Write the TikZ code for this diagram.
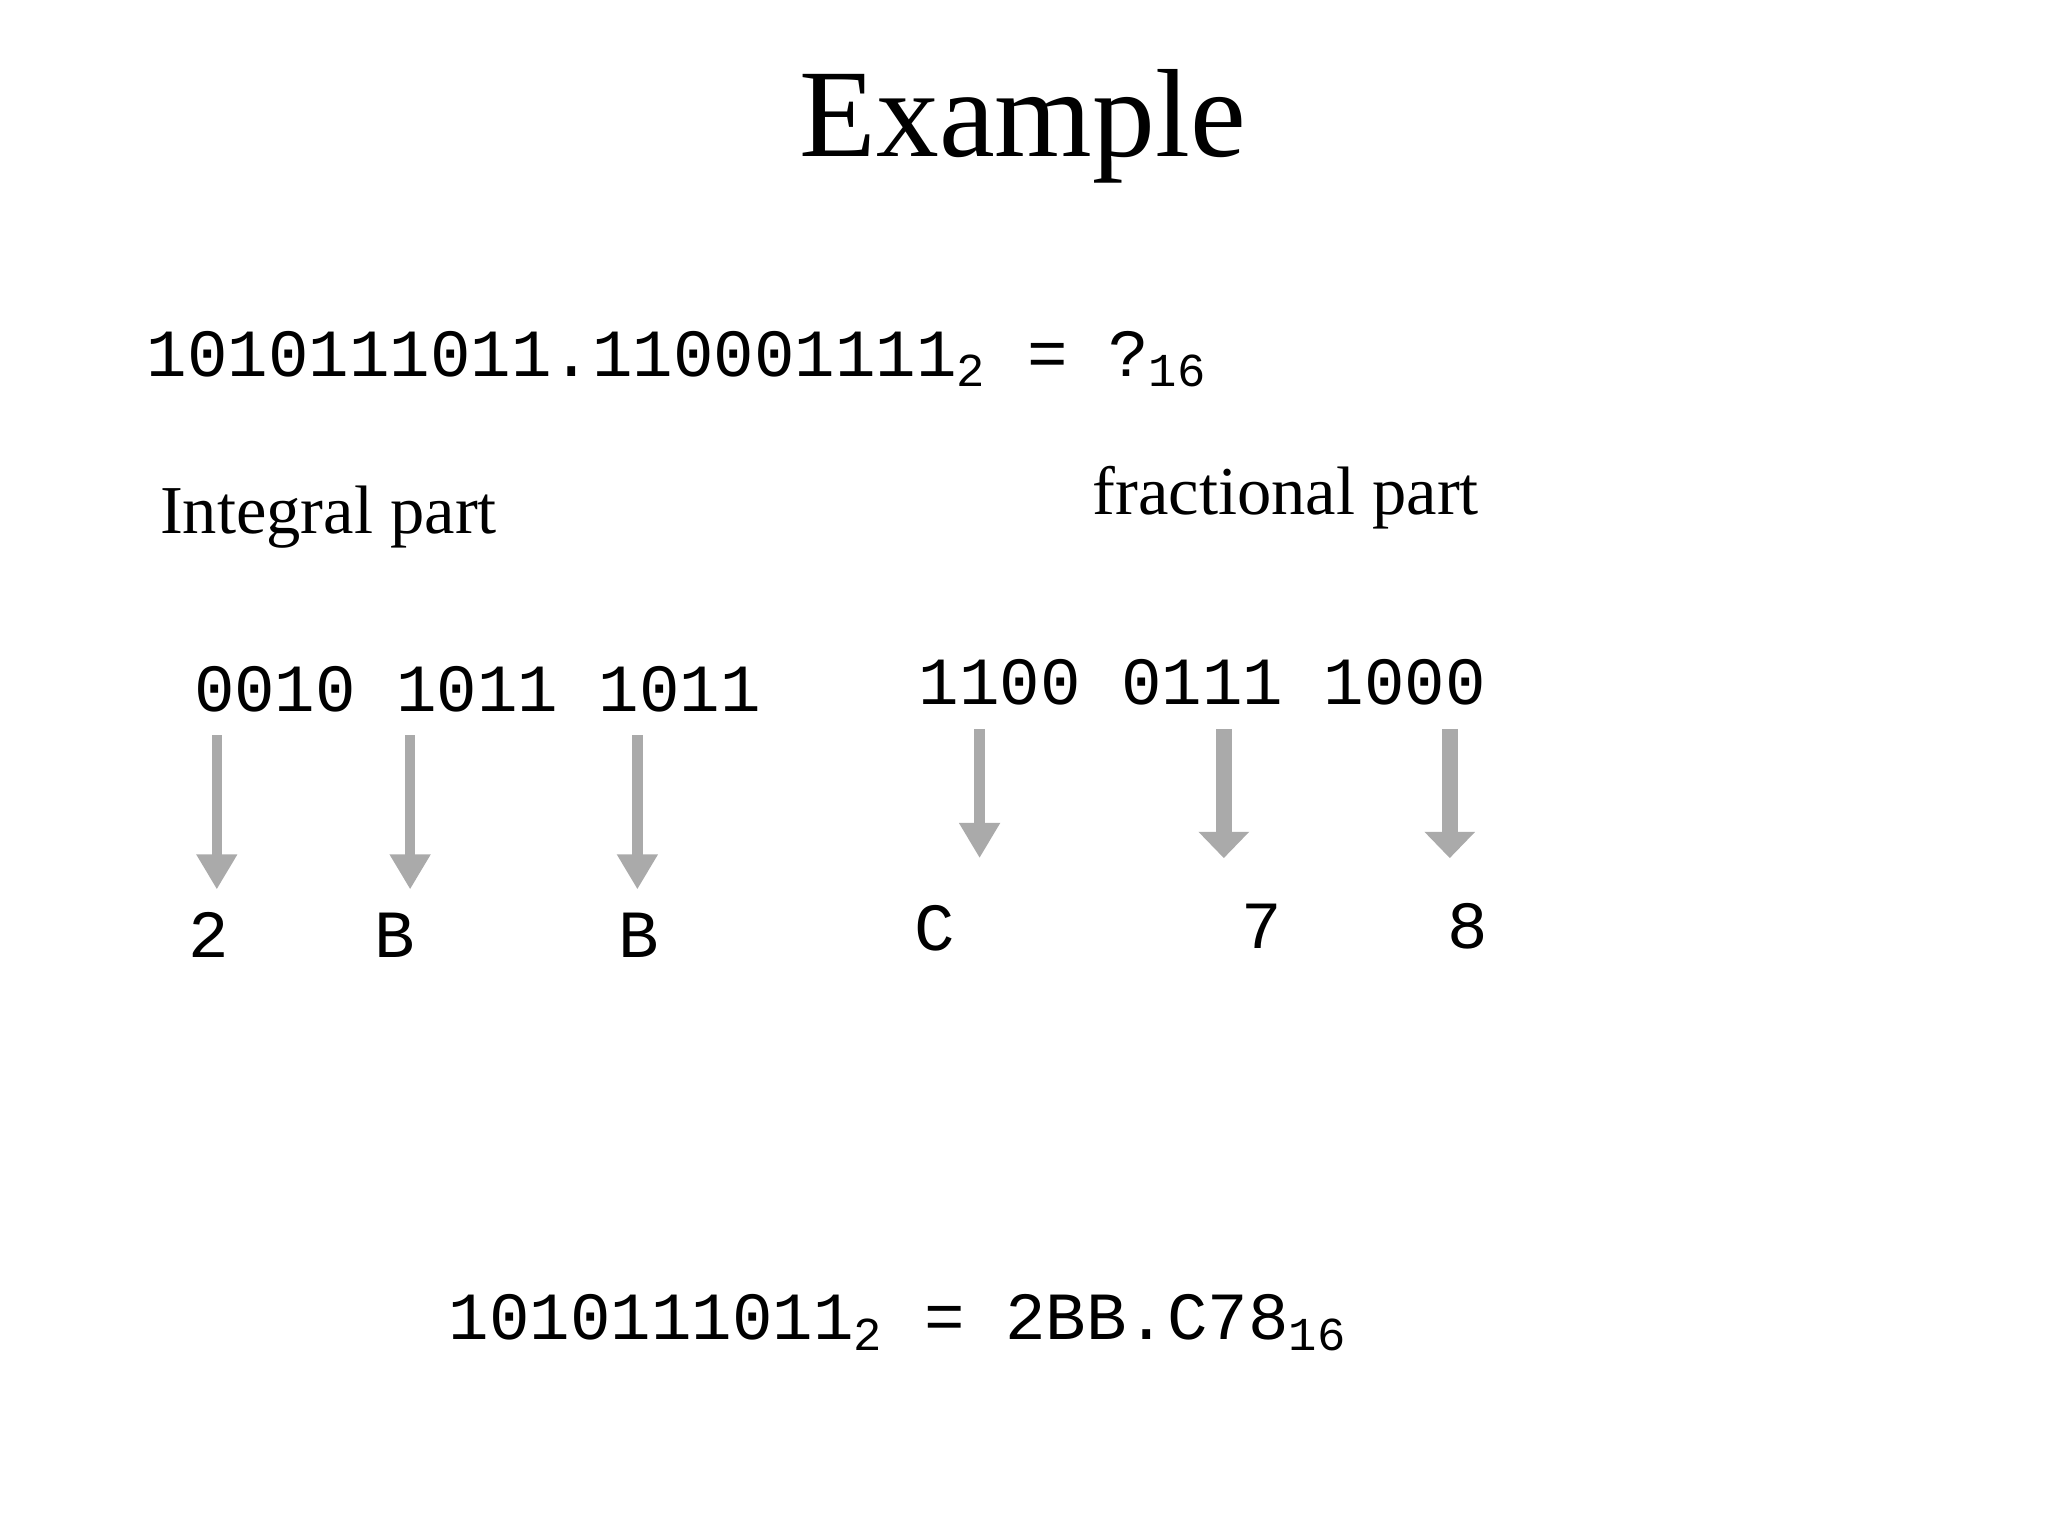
\documentclass[tikz,border=0pt]{standalone}
\usepackage{fontspec}
\setmainfont{Liberation Serif}
\setmonofont{Liberation Mono}
\usetikzlibrary{arrows.meta}
\definecolor{arrgray}{HTML}{AAAAAA}
\tikzset{
  mono/.style={font=\ttfamily\fontsize{19.2}{23}\selectfont, inner sep=0pt},
  lbl/.style={font=\fontsize{19.5}{23}\selectfont, inner sep=0pt},
  arrA/.style={draw=arrgray, line width=3pt, -{Triangle[width=11pt,length=10pt]}},
  arrB/.style={draw=arrgray, line width=4.4pt, -{Triangle[width=14pt,length=7.5pt]}},
}
\begin{document}
\begin{tikzpicture}[x=0.01306cm,y=-0.01306cm]
\useasboundingbox (0,0) rectangle (1568,1176);
\node[inner sep=0pt, font=\fontsize{35.7}{42}\selectfont] (title) at (783,97) {Example};
\node[mono, anchor=west] (q) at (112,275) {1010111011.110001111\textsubscript{2} = ?\textsubscript{16}};
\node[lbl, anchor=west] (ip) at (122,396) {Integral part};
\node[lbl, anchor=west] (fp) at (836,381) {fractional part};
\node[mono, anchor=west] (ib) at (148,528) {0010 1011 1011};
\node[mono, anchor=west] (fb) at (703,522) {1100 0111 1000};
\coordinate (s1) at (166,563); \coordinate (e1) at (166,681);
\coordinate (s2) at (314,563); \coordinate (e2) at (314,681);
\coordinate (s3) at (488,563); \coordinate (e3) at (488,681);
\coordinate (s4) at (750,558); \coordinate (e4) at (750,657);
\coordinate (s5) at (937,558); \coordinate (e5) at (937,657);
\coordinate (s6) at (1110,558); \coordinate (e6) at (1110,657);
\draw[arrA] (s1) -- (e1);
\draw[arrA] (s2) -- (e2);
\draw[arrA] (s3) -- (e3);
\draw[arrA] (s4) -- (e4);
\draw[arrB] (s5) -- (e5);
\draw[arrB] (s6) -- (e6);
\node[mono] (h1) at (160,716) {2};
\node[mono] (h2) at (302,716) {B};
\node[mono] (h3) at (489,716) {B};
\node[mono] (h4) at (716,711) {C};
\node[mono] (h5) at (966,709) {7};
\node[mono] (h6) at (1124,709) {8};
\node[mono, anchor=west] (res) at (343,1013) {1010111011\textsubscript{2} = 2BB.C78\textsubscript{16}};
\end{tikzpicture}
\end{document}
